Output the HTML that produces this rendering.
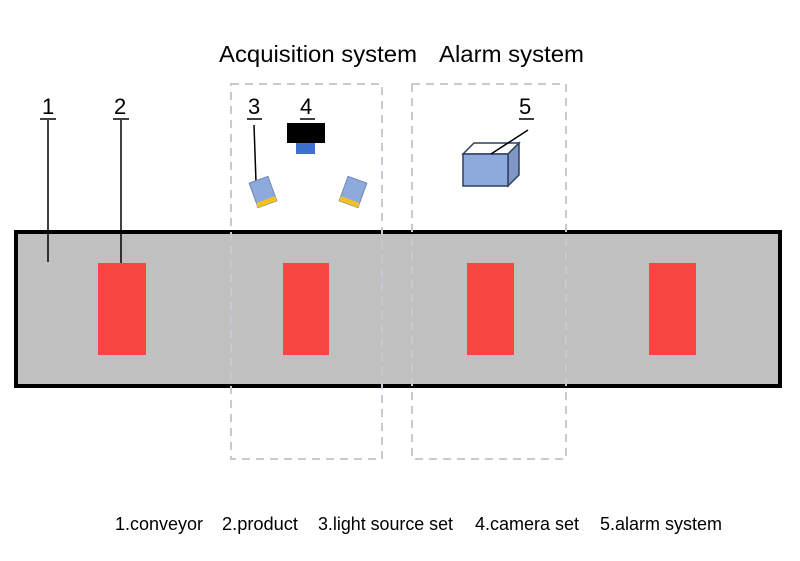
<!DOCTYPE html>
<html><head><meta charset="utf-8"><style>
html,body{margin:0;padding:0;background:#fff;}
svg{display:block;font-family:"Liberation Sans",Arial,sans-serif;}
</style></head><body>
<svg width="800" height="561" viewBox="0 0 800 561" xmlns="http://www.w3.org/2000/svg">
<rect width="800" height="561" fill="#fff"/>
<text x="219" y="62" font-size="23" fill="#000" textLength="198" lengthAdjust="spacingAndGlyphs">Acquisition system</text>
<text x="439" y="62" font-size="23" fill="#000" textLength="145" lengthAdjust="spacingAndGlyphs">Alarm system</text>
<rect x="16" y="232" width="764" height="154" fill="#c0c0c0" stroke="#000" stroke-width="4"/>
<rect x="231" y="84" width="151" height="375" fill="none" stroke="#c5cad3" stroke-width="2" stroke-dasharray="8,6"/>
<rect x="412" y="84" width="154" height="375" fill="none" stroke="#c5cad3" stroke-width="2" stroke-dasharray="8,6"/>
<rect x="98" y="263" width="48" height="92" fill="#f94444"/>
<rect x="283" y="263" width="46" height="92" fill="#f94444"/>
<rect x="467" y="263" width="47" height="92" fill="#f94444"/>
<rect x="649" y="263" width="47" height="92" fill="#f94444"/>
<g font-size="22" fill="#000">
<text x="42" y="114">1</text><line x1="40" y1="119" x2="56" y2="119" stroke="#000" stroke-width="1.5"/>
<text x="114" y="114">2</text><line x1="113" y1="119" x2="129" y2="119" stroke="#000" stroke-width="1.5"/>
<text x="248" y="114">3</text><line x1="247" y1="119" x2="262" y2="119" stroke="#000" stroke-width="1.5"/>
<text x="300" y="114">4</text><line x1="300" y1="119" x2="315" y2="119" stroke="#000" stroke-width="1.5"/>
<text x="519" y="114">5</text><line x1="519" y1="119" x2="534" y2="119" stroke="#000" stroke-width="1.5"/>
</g>
<line x1="48" y1="120" x2="48" y2="262" stroke="#000" stroke-width="1.5"/>
<line x1="121" y1="120" x2="121" y2="263" stroke="#000" stroke-width="1.5"/>
<line x1="254" y1="125" x2="256" y2="182" stroke="#000" stroke-width="1.5"/>
<rect x="287" y="123" width="38" height="20" fill="#000"/>
<rect x="296" y="143" width="19" height="11" fill="#3f6fd1"/>
<g transform="translate(263,192) rotate(-20)">
<rect x="-10" y="-13" width="20" height="26" fill="#8ea9db" stroke="#6d86b8" stroke-width="1"/>
<rect x="-10" y="8" width="20" height="5" fill="#f2c122"/>
</g>
<g transform="translate(353,192) rotate(20)">
<rect x="-10" y="-13" width="20" height="26" fill="#8ea9db" stroke="#6d86b8" stroke-width="1"/>
<rect x="-10" y="8" width="20" height="5" fill="#f2c122"/>
</g>
<polygon points="463,154 474,143 519,143 508,154" fill="#fff" stroke="#2f3f5f" stroke-width="1.5"/>
<polygon points="508,154 519,143 519,175 508,186" fill="#7f97c7" stroke="#2f3f5f" stroke-width="1.5"/>
<rect x="463" y="154" width="45" height="32" fill="#8ea9db" stroke="#2f3f5f" stroke-width="1.5"/>
<line x1="528" y1="130" x2="491" y2="154" stroke="#000" stroke-width="1.5"/>
<g font-size="18" fill="#000">
<text x="115" y="530" textLength="88" lengthAdjust="spacingAndGlyphs">1.conveyor</text>
<text x="222" y="530" textLength="76" lengthAdjust="spacingAndGlyphs">2.product</text>
<text x="318" y="530" textLength="135" lengthAdjust="spacingAndGlyphs">3.light source set</text>
<text x="475" y="530" textLength="104" lengthAdjust="spacingAndGlyphs">4.camera set</text>
<text x="600" y="530" textLength="122" lengthAdjust="spacingAndGlyphs">5.alarm system</text>
</g>
</svg>
</body></html>
